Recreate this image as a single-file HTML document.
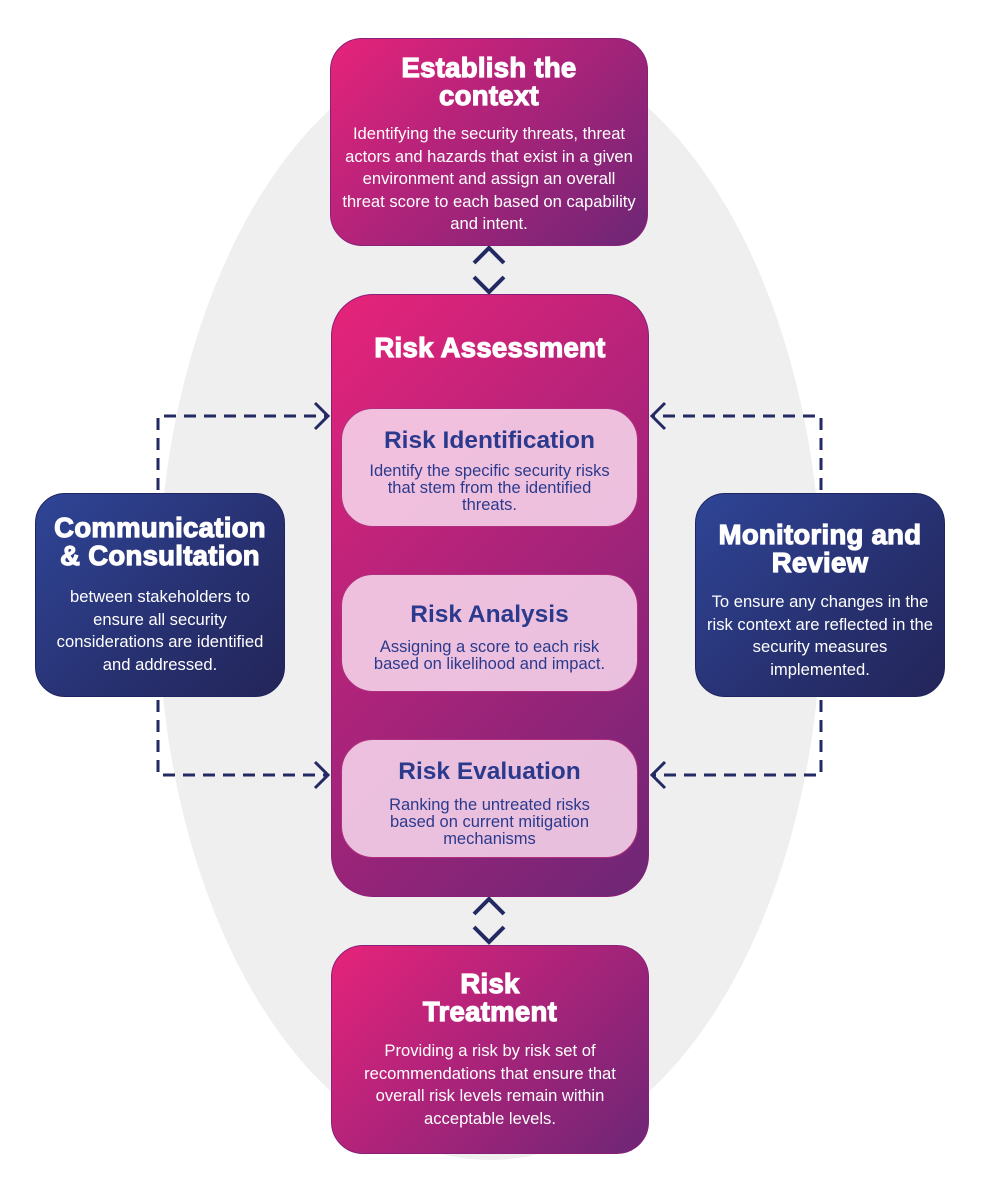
<!DOCTYPE html>
<html><head><meta charset="utf-8"><style>
body{margin:0;width:981px;height:1192px;background:#fff;position:relative;overflow:hidden;font-family:"Liberation Sans",Arial,sans-serif}
.b{position:absolute;box-sizing:border-box;text-align:center;color:#fff}
.p{background:linear-gradient(135deg,#e7237a 0%,#b0237a 45%,#6d2676 100%);border:1px solid #8a1f78}
.bl{background:linear-gradient(135deg,#2f4597 0%,#27306f 60%,#232559 100%);border:1px solid #1e2460}
.h{font-weight:bold;font-size:27.5px;line-height:28px;-webkit-text-stroke:1.2px #fff;letter-spacing:0.3px;white-space:nowrap}
.t{font-size:16.6px;line-height:22.5px;white-space:nowrap}
.in{position:absolute;left:341px;width:297px;border-radius:32px;background:rgba(246,214,236,0.88);border:1px solid #b0307f;box-sizing:border-box;text-align:center;color:#2b3a8c;white-space:nowrap}
.in .h2{font-size:24.5px;font-weight:bold;line-height:26px}
.in .t2{font-size:16.5px;line-height:17px}
</style></head><body>
<svg width="981" height="1192" style="position:absolute;left:0;top:0">
<ellipse cx="490" cy="600" rx="332" ry="560" fill="#efefef"/>
<g fill="none" stroke="#232a63" stroke-width="3">
<g stroke-dasharray="12,8">
<polyline points="158,490 158,416 326,416"/>
<polyline points="158,700 158,775 326,775"/>
<polyline points="821,490 821,416 654,416"/>
<polyline points="821,700 821,775 654,775"/>
</g>
<polyline points="315,403 328,416 315,429"/><polyline points="315,762 328,775 315,788"/>
<polyline points="665,403 652,416 665,429"/><polyline points="665,762 652,775 665,788"/>
<g stroke-width="4">
<polyline points="474,263 489,248 504,263"/><polyline points="474,277 489,292 504,277"/>
<polyline points="474,545 489,530 504,545"/><polyline points="474,558 489,573 504,558"/>
<polyline points="474,710 489,695 504,710"/><polyline points="474,723 489,738 504,723"/>
<polyline points="474,914 489,899 504,914"/><polyline points="474,927 489,942 504,927"/>
</g></g></svg>

<div class="b p" style="left:330px;top:38px;width:318px;height:208px;border-radius:32px">
<div class="h" style="margin-top:15px">Establish the<br>context</div>
<div class="t" style="margin-top:13px">Identifying the security threats, threat<br>actors and hazards that exist in a given<br>environment and assign an overall<br>threat score to each based on capability<br>and intent.</div></div>

<div class="b p" style="left:331px;top:294px;width:318px;height:603px;border-radius:42px">
<div class="h" style="margin-top:39px">Risk Assessment</div></div>

<div class="in" style="top:408px;height:119px"><div class="h2" style="margin-top:19px">Risk Identification</div><div class="t2" style="margin-top:9px">Identify the specific security risks<br>that stem from the identified<br>threats.</div></div>
<div class="in" style="top:574px;height:118px"><div class="h2" style="margin-top:27px">Risk Analysis</div><div class="t2" style="margin-top:11px">Assigning a score to each risk<br>based on likelihood and impact.</div></div>
<div class="in" style="top:739px;height:119px"><div class="h2" style="margin-top:19px">Risk Evaluation</div><div class="t2" style="margin-top:12px">Ranking the untreated risks<br>based on current mitigation<br>mechanisms</div></div>

<div class="b bl" style="left:35px;top:493px;width:250px;height:204px;border-radius:30px">
<div class="h" style="margin-top:20px">Communication<br>&amp; Consultation</div>
<div class="t" style="margin-top:16px">between stakeholders to<br>ensure all security<br>considerations are identified<br>and addressed.</div></div>

<div class="b bl" style="left:695px;top:493px;width:250px;height:204px;border-radius:30px">
<div class="h" style="margin-top:27px">Monitoring and<br>Review</div>
<div class="t" style="margin-top:14px">To ensure any changes in the<br>risk context are reflected in the<br>security measures<br>implemented.</div></div>

<div class="b p" style="left:331px;top:945px;width:318px;height:209px;border-radius:32px">
<div class="h" style="margin-top:24px">Risk<br>Treatment</div>
<div class="t" style="margin-top:14px">Providing a risk by risk set of<br>recommendations that ensure that<br>overall risk levels remain within<br>acceptable levels.</div></div>
</body></html>
